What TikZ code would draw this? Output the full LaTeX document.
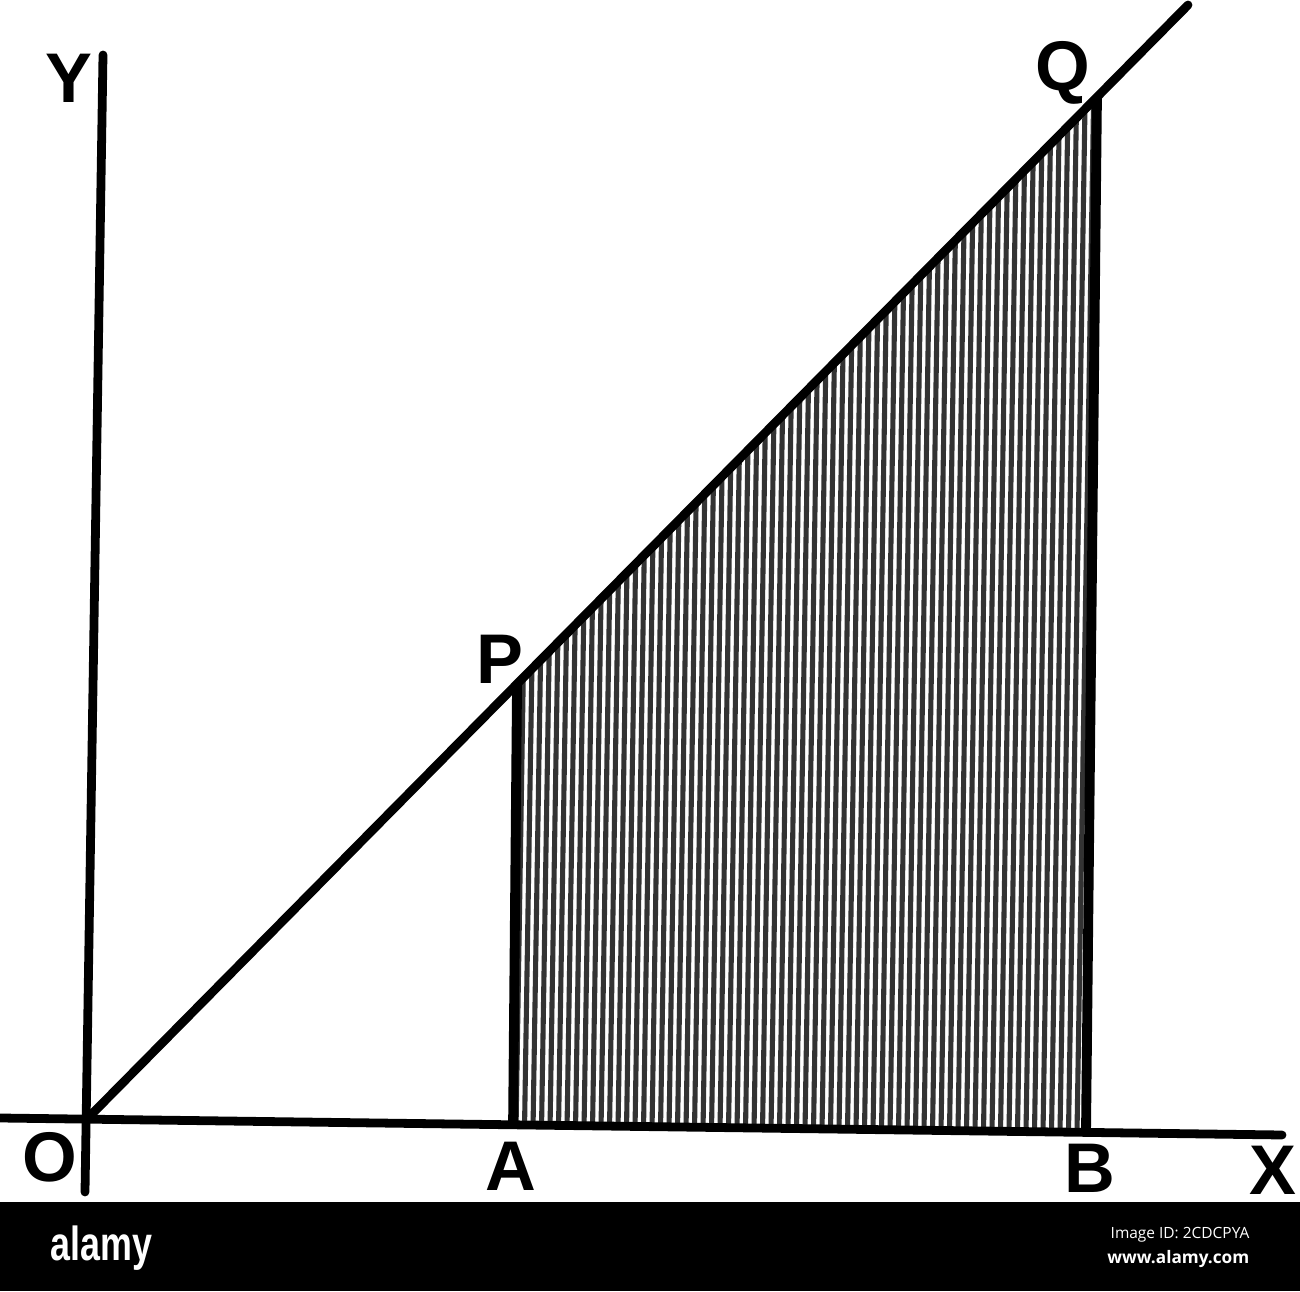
\documentclass[tikz,border=0pt]{standalone}
\usepackage{fontspec}
\setmainfont{Liberation Sans}
\newfontfamily\barfont{Open Sans}
\usetikzlibrary{calc}

\begin{document}
\begin{tikzpicture}[
        axisline/.style={line width=2.5pt, line cap=round},
        edgeline/.style={line width=2.8pt},
        hatchline/.style={line width=1.45pt, draw=black!80},
        ptlabel/.style={font=\fontsize{20}{20}\selectfont\bfseries, inner sep=0pt},
        barnote/.style={text=white, inner sep=0pt},
        ]
        \useasboundingbox (0,0) rectangle (13,12.91);
        \fill[white] (0,0) rectangle (13,12.91);
        \fill[black] (0,0) rectangle (13,0.89);

        %Points
        \coordinate (Ytop) at (1.03,12.36);
        \coordinate (Ybot) at (0.85,0.99);
        \coordinate (Xl) at (0,1.73);
        \coordinate (Xr) at (12.82,1.56);
        \coordinate (O) at (0.87,1.72);
        \coordinate (E) at (11.88,12.86);
        \coordinate (P) at ($(O)!0.3906!(E)$);
        \coordinate (Q) at ($(O)!0.9173!(E)$);
        \coordinate (A) at ($(Xl)!0.4002!(Xr)$);
        \coordinate (B) at ($(Xl)!0.8471!(Xr)$);

        %Hatching
        \begin{scope}
            \clip (A) -- (P) -- (Q) -- (B) -- cycle;
            \foreach \x in {5.15,5.235,...,10.95}
                \draw[hatchline] (\x,1.0) -- ++(0.18,11.2);
        \end{scope}

        %Lines
        \draw[axisline] (Ybot) -- (Ytop);
        \draw[axisline] (Xl) -- (Xr);
        \draw[axisline] (O) -- (E);
        \draw[edgeline] (A) -- (P);
        \draw[edgeline] (B) -- (Q);

        %Labels
        \node[ptlabel] (Ylab) at (0.69,12.13) {Y};
        \node[ptlabel] (Qlab) at (10.63,12.18) {Q};
        \node[ptlabel] (Plab) at (5.00,6.32) {P};
        \node[ptlabel] (Olab) at (0.50,1.34) {O};
        \node[ptlabel] (Alab) at (5.11,1.25) {A};
        \node[ptlabel] (Blab) at (10.90,1.23) {B};
        \node[ptlabel] (Xlab) at (12.73,1.21) {X};

        %Bar
        \node[barnote, anchor=base west, font=\fontsize{13.6}{14}\selectfont\bfseries] (logo) at (0.50,0.31) {\scalebox{0.75}[1]{alamy}};
        \node[barnote, anchor=base east, font=\barfont\fontsize{4.4}{5}\selectfont] (imgid) at (12.50,0.53) {Image ID: 2CDCPYA};
        \node[barnote, anchor=base east, font=\barfont\bfseries\fontsize{4.9}{5}\selectfont] (site) at (12.50,0.28) {www.alamy.com};
    \end{tikzpicture}
\end{document}
